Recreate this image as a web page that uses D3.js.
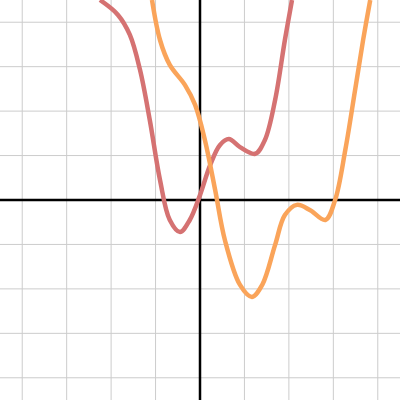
<!DOCTYPE html><html><head><script src="https://cdn.jsdelivr.net/npm/d3@7"></script>
<style>body{margin:0}svg{display:block}</style></head><body><svg width="400" height="400"></svg>
<script>
const ticks=[-4,-3,-2,-1,0,1,2,3,4];
const redX=[-2.25,-1.85,-1.58,-1.35,-1.13,-0.90,-0.68,-0.45,-0.23,0,0.23,0.45,0.65,0.90,1.24,1.46,1.69,1.91,2.07];
const redY=[4.5,4.17,3.72,2.93,1.80,0.45,-0.45,-0.72,-0.45,0.11,0.79,1.24,1.37,1.19,1.04,1.35,2.25,3.60,4.5];
const orX=[-1.08,-0.90,-0.68,-0.34,-0.11,0.11,0.34,0.56,0.90,1.17,1.40,1.69,1.91,2.18,2.48,2.82,3.04,3.27,3.49,3.67,3.83];
const orY=[4.5,3.60,3.04,2.59,2.14,1.35,0.23,-0.90,-1.91,-2.18,-1.91,-1.01,-0.34,-0.11,-0.23,-0.45,0,1.13,2.48,3.60,4.5];
const svg=d3.select("svg");
const x=d3.scaleLinear([-4.5,4.5],[0,400]),y=d3.scaleLinear([-4.5,4.5],[400,0]);
svg.append("rect").attr("width",400).attr("height",400).attr("fill","#fff");
svg.selectAll(".gx").data(ticks).join("line").attr("x1",d=>x(d)).attr("x2",d=>x(d)).attr("y1",0).attr("y2",400).attr("stroke","#ccc").attr("stroke-width",1);
svg.selectAll(".gy").data(ticks).join("line").attr("y1",d=>y(d)).attr("y2",d=>y(d)).attr("x1",0).attr("x2",400).attr("stroke","#ccc").attr("stroke-width",1);
svg.append("line").attr("x1",x(0)).attr("x2",x(0)).attr("y1",0).attr("y2",400).attr("stroke","#000").attr("stroke-width",2.5);
svg.append("line").attr("y1",y(0)).attr("y2",y(0)).attr("x1",0).attr("x2",400).attr("stroke","#000").attr("stroke-width",2.5);
const line=d3.line().x(d=>x(d[0])).y(d=>y(d[1])).curve(d3.curveCatmullRom);
svg.append("path").attr("d",line(d3.zip(redX,redY))).attr("fill","none").attr("stroke","#d57272").attr("stroke-width",4.5);
svg.append("path").attr("d",line(d3.zip(orX,orY))).attr("fill","none").attr("stroke","#faa45a").attr("stroke-width",4.5);
</script></body></html>
